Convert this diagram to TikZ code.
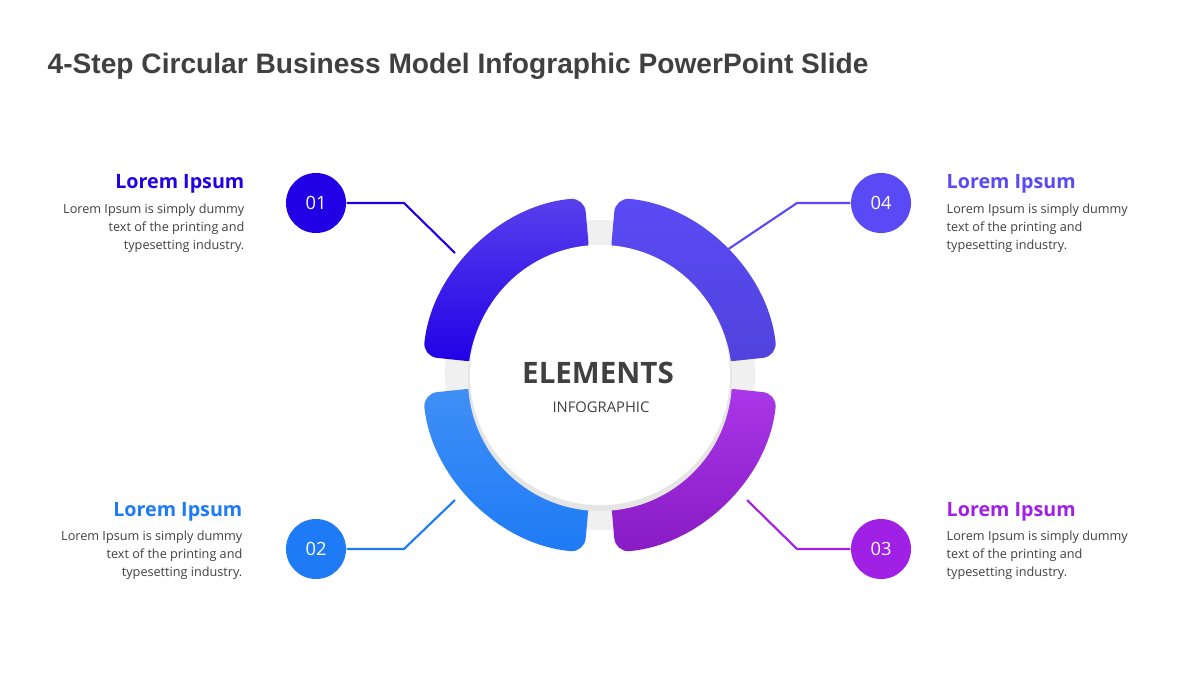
\documentclass[tikz,border=0pt]{standalone}
\usepackage{fontspec}
\setmainfont{Open Sans}
\newfontfamily\titlefont{Liberation Sans}
\usetikzlibrary{shadows}
\definecolor{cA}{HTML}{2200E6}
\definecolor{cB}{HTML}{1E7BF5}
\definecolor{cC}{HTML}{A020E6}
\definecolor{cD}{HTML}{5A4AF5}
\definecolor{txt}{HTML}{404040}
\begin{document}
\begin{tikzpicture}[x=0.01cm,y=0.01cm,
  num/.style={circle,minimum size=0.6cm,inner sep=0pt,text=white,font=\fontsize{5.2pt}{6pt}\selectfont},
  head/.style={font=\fontsize{5.6pt}{7pt}\selectfont\bfseries,inner sep=0pt},
  body/.style={font=\fontsize{3.6pt}{5.1pt}\selectfont,text=txt,inner sep=0pt},
  conn/.style={line width=0.6pt}]
\useasboundingbox (0,0) rectangle (1200,675);
\fill[white] (0,0) rectangle (1200,675);
\node[anchor=base west,inner sep=0pt,text=txt,font=\titlefont\fontsize{8pt}{9pt}\selectfont\bfseries] (title) at (47,602) {4-Step Circular Business Model Infographic PowerPoint Slide};
\coordinate (c) at (600,300);
\fill[gray!12] (c) circle[radius=155];
\begin{scope}[shift={(600,300)}]
\shade[top color=cA!75!white,bottom color=cA,rounded corners=4pt] (95:178) arc[start angle=95,end angle=174,radius=178] -- (174:120) arc[start angle=174,end angle=95,radius=120] -- cycle;
\shade[top color=cD,bottom color=cD!90!black,rounded corners=4pt] (6:178) arc[start angle=6,end angle=85,radius=178] -- (85:120) arc[start angle=85,end angle=6,radius=120] -- cycle;
\shade[top color=cB!85!white,bottom color=cB,rounded corners=4pt] (186:178) arc[start angle=186,end angle=265,radius=178] -- (265:120) arc[start angle=265,end angle=186,radius=120] -- cycle;
\shade[top color=cC!90!white,bottom color=cC!85!black,rounded corners=4pt] (275:178) arc[start angle=275,end angle=354,radius=178] -- (354:120) arc[start angle=354,end angle=275,radius=120] -- cycle;
\end{scope}
\fill[black!10] (600,296) circle[radius=132];
\node[circle,fill=white,minimum size=2.6cm,inner sep=0pt] (ring) at (c) {};
\node[font=\fontsize{8.4pt}{10pt}\selectfont\bfseries,text=txt,inner sep=0pt] (el) at (598,302) {ELEMENTS};
\node[font=\fontsize{4.2pt}{5pt}\selectfont,text=txt,inner sep=0pt] (inf) at (601,268) {INFOGRAPHIC};
% numbers
\node[num,fill=cA] (n1) at (316,472) {01};
\node[num,fill=cD] (n4) at (881,472) {04};
\node[num,fill=cB] (n2) at (316,126) {02};
\node[num,fill=cC] (n3) at (881,126) {03};
\coordinate (e1) at (455,422); \coordinate (e4) at (727,425);
\coordinate (e2) at (455,175); \coordinate (e3) at (747,175);
\draw[conn,cA] (n1.east) -- (404,472) -- (e1);
\draw[conn,cD] (n4.west) -- (797,472) -- (e4);
\draw[conn,cB] (n2.east) -- (404,126) -- (e2);
\draw[conn,cC] (n3.west) -- (797,126) -- (e3);
% texts
\node[head,text=cA,anchor=base east] (h1) at (245,487) {Lorem Ipsum};
\node[body,anchor=north east,align=right] (b1) at (245,472) {Lorem Ipsum is simply dummy\\text of the printing and\\typesetting industry.};
\node[head,text=cB,anchor=base east] (h2) at (243,159) {Lorem Ipsum};
\node[body,anchor=north east,align=right] (b2) at (243,145) {Lorem Ipsum is simply dummy\\text of the printing and\\typesetting industry.};
\node[head,text=cD,anchor=base west] (h4) at (946,487) {Lorem Ipsum};
\node[body,anchor=north west,align=left] (b4) at (946,472) {Lorem Ipsum is simply dummy\\text of the printing and\\typesetting industry.};
\node[head,text=cC,anchor=base west] (h3) at (946,159) {Lorem Ipsum};
\node[body,anchor=north west,align=left] (b3) at (946,145) {Lorem Ipsum is simply dummy\\text of the printing and\\typesetting industry.};
\end{tikzpicture}
\end{document}
